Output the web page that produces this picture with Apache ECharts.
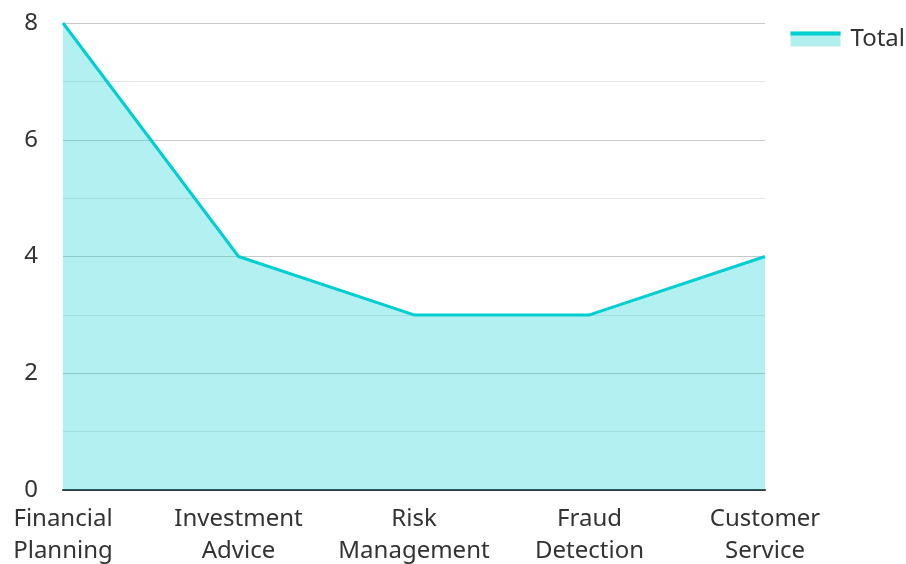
<!DOCTYPE html>
<html><head><meta charset="utf-8">
<script src="https://cdn.jsdelivr.net/npm/echarts@6/dist/echarts.min.js"></script>
<style>html,body{margin:0;padding:0;background:#fff}#c{width:906px;height:564px}</style>
</head><body><div id="c"></div>
<script>
const categories = ["Financial\nPlanning", "Investment\nAdvice", "Risk\nManagement", "Fraud\nDetection", "Customer\nService"];
const totalValues = [8, 4, 3, 3, 4];
const seriesName = "Total";

const chart = echarts.init(document.getElementById('c'), null, {renderer: 'canvas'});
const font = '"Noto Sans", "Open Sans", sans-serif';
const legendTop = 27;
chart.setOption({
  animation: false,
  textStyle: {fontFamily: font},
  legend: [{
    data: [{name: seriesName, icon: 'rect', itemStyle: {color: '#B2F0EF', borderWidth: 0}}],
    right: 1, top: legendTop, padding: 0, itemWidth: 50, itemHeight: 15, itemGap: 10,
    textStyle: {fontSize: 24, color: '#333', fontFamily: font, padding: [0, 0, 0, 5]}
  }, {
    data: [{name: seriesName, icon: 'rect', itemStyle: {color: '#00CED1', borderWidth: 0}}],
    right: 1, top: legendTop - 5.5, padding: 0, itemWidth: 50, itemHeight: 4, itemGap: 10,
    selectedMode: false,
    textStyle: {fontSize: 24, color: 'rgba(0,0,0,0)', fontFamily: font, padding: [0, 0, 0, 5]}
  }],
  grid: {left: 63, right: 141, top: 23, bottom: 74, containLabel: false, outerBoundsMode: 'none'},
  xAxis: {
    type: 'category', data: categories, boundaryGap: false,
    axisLine: {lineStyle: {color: '#333', width: 2}},
    axisTick: {show: false},
    axisLabel: {fontSize: 24, color: '#333', lineHeight: 32, margin: 13, interval: 0, fontFamily: font},
    splitLine: {show: false}
  },
  yAxis: {
    type: 'value', min: 0, max: 8, interval: 2,
    axisLine: {show: false}, axisTick: {show: false},
    axisLabel: {fontSize: 24, color: '#333', margin: 25, fontFamily: font},
    splitLine: {lineStyle: {color: '#c8c8c8', width: 1}},
    minorTick: {show: false, splitNumber: 2},
    minorSplitLine: {show: true, lineStyle: {color: '#e4e4e4', width: 1}}
  },
  series: [{
    name: seriesName, type: 'line', data: totalValues,
    showSymbol: false, symbol: 'none',
    lineStyle: {color: '#00CED1', width: 3},
    itemStyle: {color: '#00CED1'},
    areaStyle: {color: 'rgba(0,206,209,0.3)', opacity: 1}
  }]
});
</script></body></html>
